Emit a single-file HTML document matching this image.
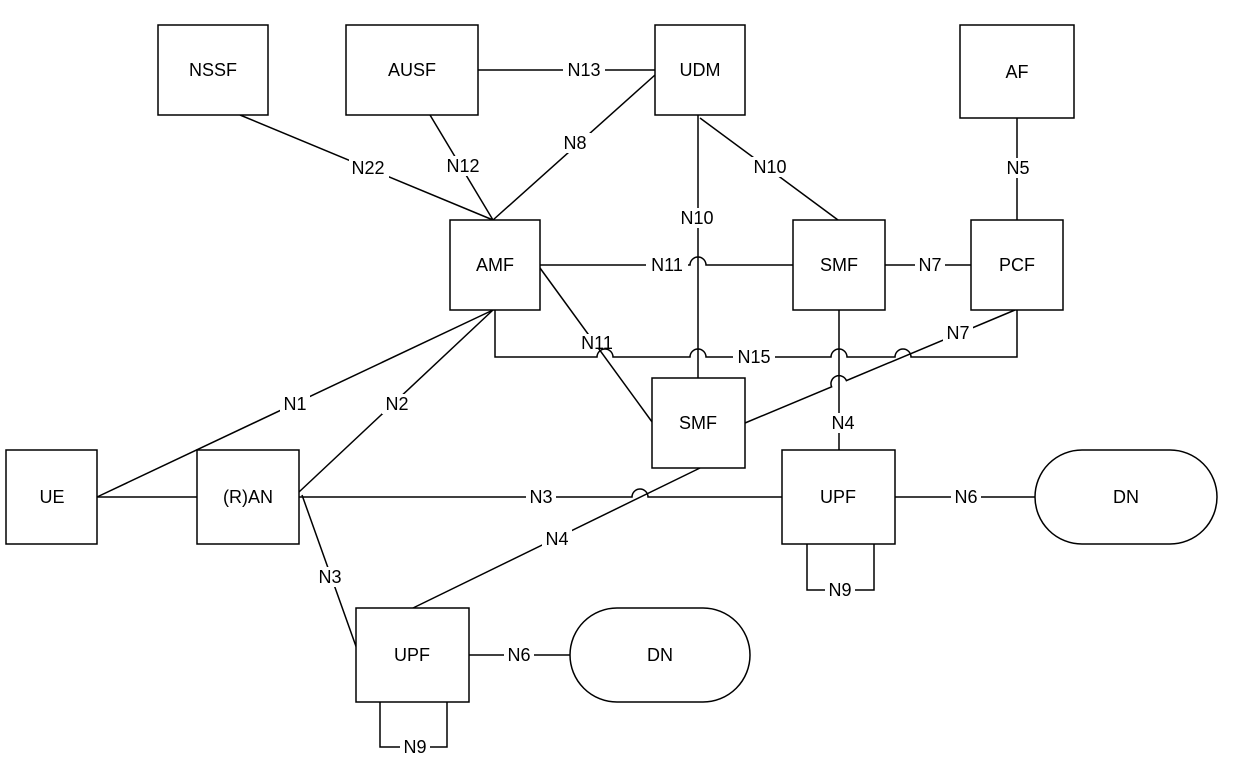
<!DOCTYPE html>
<html><head><meta charset="utf-8"><style>
html,body{margin:0;padding:0;background:#fff;}
svg{display:block;}
text{font-family:"Liberation Sans",Arial,sans-serif;font-size:18px;fill:#000;text-anchor:middle;dominant-baseline:central;}
.l{stroke:#000;stroke-width:1.5;fill:none;}
.b{stroke:#000;stroke-width:1.5;fill:#fff;}
.t{fill:#fff;stroke:none;}
</style></head><body>
<svg width="1241" height="770" viewBox="0 0 1241 770">
<line class="l" x1="240" y1="115" x2="493" y2="220"/>
<line class="l" x1="430" y1="115" x2="493" y2="220"/>
<line class="l" x1="655" y1="75" x2="493" y2="220"/>
<line class="l" x1="478" y1="70" x2="655" y2="70"/>
<line class="l" x1="698" y1="115" x2="698" y2="378"/>
<line class="l" x1="700" y1="118" x2="838" y2="220"/>
<line class="l" x1="1017" y1="118" x2="1017" y2="220"/>
<path class="l" d="M540 265 H690 A8 8 0 0 1 706 265 H793"/>
<line class="l" x1="885" y1="265" x2="971" y2="265"/>
<line class="l" x1="540" y1="268" x2="655" y2="426"/>
<path class="l" d="M495 310 V357 H597 A8 8 0 0 1 613 357 H690 A8 8 0 0 1 706 357 H831 A8 8 0 0 1 847 357 H895 A8 8 0 0 1 911 357 H1017 V310"/>
<line class="l" x1="839" y1="310" x2="839" y2="450"/>
<path class="l" d="M1015 310 L846.4 380.6 A8 8 0 0 0 831.6 386.8 L745 423"/>
<line class="l" x1="97" y1="497" x2="493" y2="310"/>
<line class="l" x1="97" y1="497" x2="197" y2="497"/>
<line class="l" x1="299" y1="492" x2="493" y2="310"/>
<path class="l" d="M299 497 H632 A8 8 0 0 1 648 497 H782"/>
<line class="l" x1="700" y1="468" x2="413" y2="608"/>
<line class="l" x1="302" y1="495" x2="358" y2="652"/>
<line class="l" x1="469" y1="655" x2="570" y2="655"/>
<line class="l" x1="895" y1="497" x2="1035" y2="497"/>
<path class="l" d="M807 544 V590 H874 V544"/>
<path class="l" d="M380 702 V747 H447 V702"/>
<rect class="b" x="158" y="25" width="110" height="90"/>
<rect class="b" x="346" y="25" width="132" height="90"/>
<rect class="b" x="655" y="25" width="90" height="90"/>
<rect class="b" x="960" y="25" width="114" height="93"/>
<rect class="b" x="450" y="220" width="90" height="90"/>
<rect class="b" x="793" y="220" width="92" height="90"/>
<rect class="b" x="971" y="220" width="92" height="90"/>
<rect class="b" x="652" y="378" width="93" height="90"/>
<rect class="b" x="6" y="450" width="91" height="94"/>
<rect class="b" x="197" y="450" width="102" height="94"/>
<rect class="b" x="782" y="450" width="113" height="94"/>
<rect class="b" x="1035" y="450" width="182" height="94" rx="47"/>
<rect class="b" x="356" y="608" width="113" height="94"/>
<rect class="b" x="570" y="608" width="180" height="94" rx="47"/>
<text x="213" y="70">NSSF</text>
<text x="412" y="70">AUSF</text>
<text x="700" y="70">UDM</text>
<text x="1017" y="72">AF</text>
<text x="495" y="265">AMF</text>
<text x="839" y="265">SMF</text>
<text x="1017" y="265">PCF</text>
<text x="698" y="423">SMF</text>
<text x="52" y="497">UE</text>
<text x="248" y="497">(R)AN</text>
<text x="838" y="497">UPF</text>
<text x="1126" y="497">DN</text>
<text x="412" y="655">UPF</text>
<text x="660" y="655">DN</text>
<g>
<rect class="t" x="349" y="158" width="40" height="20"/><text x="368" y="168">N22</text>
<rect class="t" x="443" y="156" width="40" height="20"/><text x="463" y="166">N12</text>
<rect class="t" x="561" y="133" width="30" height="20"/><text x="575" y="143">N8</text>
<rect class="t" x="563" y="60" width="42" height="20"/><text x="584" y="70">N13</text>
<rect class="t" x="676" y="208" width="42" height="20"/><text x="697" y="218">N10</text>
<rect class="t" x="749" y="157" width="42" height="20"/><text x="770" y="167">N10</text>
<rect class="t" x="1003" y="158" width="30" height="20"/><text x="1018" y="168">N5</text>
<rect class="t" x="646" y="255" width="42" height="20"/><text x="667" y="265">N11</text>
<rect class="t" x="915" y="255" width="30" height="20"/><text x="930" y="265">N7</text>
<rect class="t" x="577" y="334" width="40" height="14"/><text x="597" y="343">N11</text>
<rect class="t" x="733" y="347" width="42" height="20"/><text x="754" y="357">N15</text>
<rect class="t" x="943" y="323" width="30" height="20"/><text x="958" y="333">N7</text>
<rect class="t" x="828" y="413" width="30" height="20"/><text x="843" y="423">N4</text>
<rect class="t" x="280" y="394" width="30" height="20"/><text x="295" y="404">N1</text>
<rect class="t" x="382" y="394" width="30" height="20"/><text x="397" y="404">N2</text>
<rect class="t" x="526" y="487" width="30" height="20"/><text x="541" y="497">N3</text>
<rect class="t" x="542" y="529" width="30" height="20"/><text x="557" y="539">N4</text>
<rect class="t" x="315" y="567" width="30" height="20"/><text x="330" y="577">N3</text>
<rect class="t" x="504" y="645" width="30" height="20"/><text x="519" y="655">N6</text>
<rect class="t" x="951" y="487" width="30" height="20"/><text x="966" y="497">N6</text>
<rect class="t" x="825" y="580" width="30" height="20"/><text x="840" y="590">N9</text>
<rect class="t" x="400" y="737" width="30" height="20"/><text x="415" y="747">N9</text>
</g>
</svg>
</body></html>
